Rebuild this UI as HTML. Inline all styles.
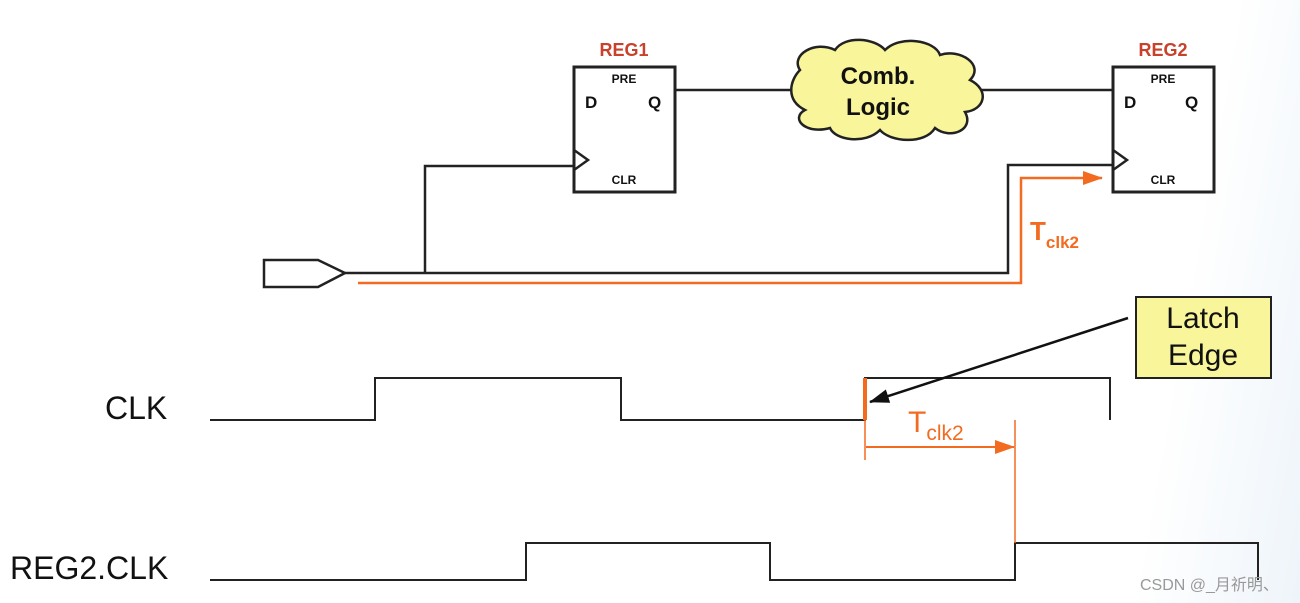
<!DOCTYPE html>
<html><head><meta charset="utf-8"><style>
html,body{margin:0;padding:0;}
body{width:1300px;height:603px;overflow:hidden;background:linear-gradient(100deg,#fff 0%,#fff 88%,#f5f9fc 95%,#eef4fa 100%);}
svg{display:block}
text{font-family:"Liberation Sans",Arial,sans-serif;}
</style></head><body>
<svg width="1300" height="603" viewBox="0 0 1300 603">
<defs>
<marker id="ob" markerWidth="20" markerHeight="14" refX="19" refY="7" orient="auto" markerUnits="userSpaceOnUse"><path d="M0,0 L20,7 L0,14 Z" fill="#f26b21"/></marker>
<marker id="ka" markerWidth="20" markerHeight="14" refX="19" refY="7" orient="auto" markerUnits="userSpaceOnUse"><path d="M0,0 L20,7 L0,14 Z" fill="#111"/></marker>
</defs>
<g fill="none" stroke="#222" stroke-width="2.5">
<rect x="574" y="67" width="101" height="125" stroke-width="3"/>
<rect x="1113" y="67" width="101" height="125" stroke-width="3"/>
<polyline points="574,150 588,160 574,170"/>
<polyline points="1113,150 1127,160 1113,170"/>
<line x1="675" y1="90" x2="792" y2="90"/>
<line x1="982" y1="90" x2="1113" y2="90"/>
<polygon points="264,260 318,260 345,273 318,287 264,287"/>
<polyline points="345,273 1008,273 1008,165 1113,165"/>
<polyline points="425,273 425,166 574,166"/>
<polyline points="210,420 375,420 375,378 621,378 621,420 865,420 865,378 1110,378 1110,420" stroke-width="2"/>
<polyline points="210,580 526,580 526,543 770,543 770,580 1015,580 1015,543 1258,543 1258,580" stroke-width="2"/>
</g>
<path d="M800,70 C790,55 815,40 835,50 C845,35 875,38 885,50 C900,35 935,40 940,55 C960,48 985,65 970,80 C990,90 985,110 965,112 C975,130 950,140 935,128 C925,145 890,142 880,130 C865,145 835,140 830,128 C805,135 790,118 805,110 C785,100 790,80 800,70 Z" fill="#f8f59a" stroke="#222" stroke-width="2.5"/>
<text x="878" y="84" font-size="24" font-weight="bold" text-anchor="middle" fill="#111">Comb.</text>
<text x="878" y="115" font-size="24" font-weight="bold" text-anchor="middle" fill="#111">Logic</text>
<text x="624" y="56" font-size="18" font-weight="bold" text-anchor="middle" fill="#c8412b">REG1</text>
<text x="1163" y="56" font-size="18" font-weight="bold" text-anchor="middle" fill="#c8412b">REG2</text>
<g font-weight="bold" fill="#111">
<text x="624" y="83" font-size="12" text-anchor="middle">PRE</text>
<text x="585" y="108" font-size="17">D</text>
<text x="648" y="108" font-size="17">Q</text>
<text x="624" y="184" font-size="12" text-anchor="middle">CLR</text>
<text x="1163" y="83" font-size="12" text-anchor="middle">PRE</text>
<text x="1124" y="108" font-size="17">D</text>
<text x="1185" y="108" font-size="17">Q</text>
<text x="1163" y="184" font-size="12" text-anchor="middle">CLR</text>
</g>
<polyline points="358,283 1021,283 1021,178 1102,178" fill="none" stroke="#f26b21" stroke-width="2.5" marker-end="url(#ob)"/>
<text x="1030" y="240" font-size="26" font-weight="bold" fill="#f26b21">T<tspan font-size="17" dy="8">clk2</tspan></text>
<rect x="1136" y="297" width="135" height="81" fill="#f8f59a" stroke="#222" stroke-width="2"/>
<text x="1203" y="328" font-size="30" text-anchor="middle" fill="#111">Latch</text>
<text x="1203" y="365" font-size="30" text-anchor="middle" fill="#111">Edge</text>
<line x1="1128" y1="318" x2="870" y2="402" stroke="#111" stroke-width="2.5" marker-end="url(#ka)"/>
<line x1="865" y1="378" x2="865" y2="420" stroke="#f26b21" stroke-width="4"/>
<line x1="865" y1="420" x2="865" y2="460" stroke="#f26b21" stroke-width="1.5"/>
<line x1="1015" y1="420" x2="1015" y2="543" stroke="#f26b21" stroke-width="1.5"/>
<line x1="866" y1="447" x2="1014" y2="447" stroke="#f26b21" stroke-width="2" marker-end="url(#ob)"/>
<text x="908" y="432" font-size="30" fill="#f26b21">T<tspan font-size="21" dy="8">clk2</tspan></text>
<text x="105" y="419" font-size="32" fill="#111">CLK</text>
<text x="10" y="579" font-size="32" fill="#111">REG2.CLK</text>
<text x="1140" y="590" font-size="16" fill="#999" font-family="'Liberation Sans','Noto Sans CJK SC',sans-serif">CSDN @_月祈明、</text>
</svg>
</body></html>
